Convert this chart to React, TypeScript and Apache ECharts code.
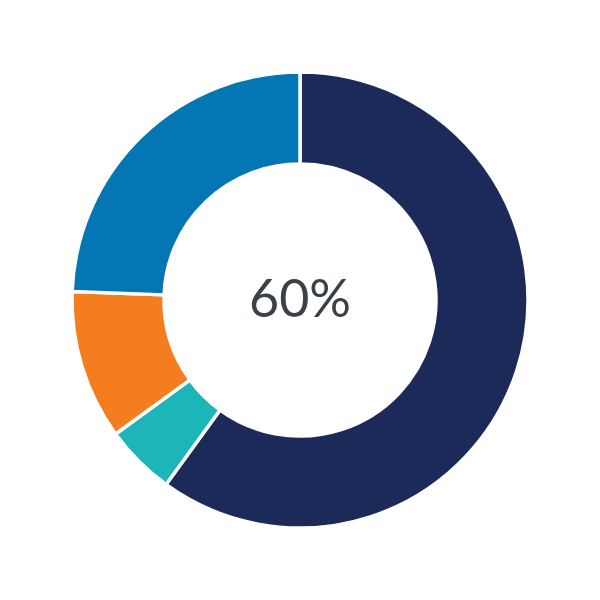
import React, { useEffect, useRef } from "react";
import * as echarts from "echarts";

const categories = ["A", "B", "C", "D"];
const values = [60, 5, 10.6, 24.4];
const colors = ["#1c2a5a", "#1db6b8", "#f47d20", "#0476b4"];
const centerLabel = "60%";

export default function App() {
  const ref = useRef<HTMLDivElement>(null);
  useEffect(() => {
    if (!ref.current) return;
    const chart = echarts.init(ref.current, undefined, { renderer: "svg" });
    chart.setOption({
      animation: false,
      graphic: [
        {
          type: "text",
          x: 300,
          y: 297,
          style: {
            text: centerLabel,
            font: "400 52px Lato",
            fill: "#3b4149",
            align: "center",
            verticalAlign: "middle",
          },
        },
      ],
      series: [
        {
          type: "pie",
          center: ["50%", "50%"],
          radius: [136, 228],
          startAngle: 90,
          clockwise: true,
          label: { show: false },
          labelLine: { show: false },
          emphasis: { disabled: true },
          itemStyle: { borderColor: "#ffffff", borderWidth: 3.5 },
          data: categories.map((c, i) => ({
            name: c,
            value: values[i],
            itemStyle: { color: colors[i] },
          })),
        },
      ],
    });
    return () => chart.dispose();
  }, []);
  return (
    <div
      ref={ref}
      style={{ position: "fixed", left: 0, top: 0, width: 600, height: 600, background: "#fff" }}
    />
  );
}
